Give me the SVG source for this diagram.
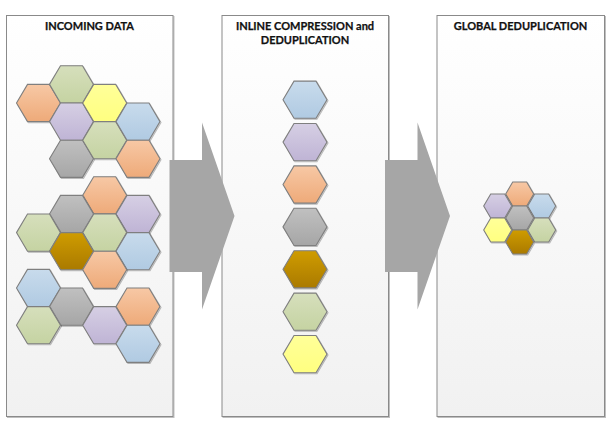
<svg xmlns="http://www.w3.org/2000/svg" xmlns:xlink="http://www.w3.org/1999/xlink" width="613" height="431" viewBox="0 0 613 431">
<defs>
<linearGradient id="gPanel" x1="0" y1="0" x2="0" y2="1"><stop offset="0" stop-color="#ffffff"/><stop offset="1" stop-color="#f1f1f1"/></linearGradient>
<linearGradient id="gOr" x1="0" y1="0" x2="0" y2="1"><stop offset="0" stop-color="#f7c8a5"/><stop offset="1" stop-color="#eeaa79"/></linearGradient>
<linearGradient id="gGr" x1="0" y1="0" x2="0" y2="1"><stop offset="0" stop-color="#d6dfbc"/><stop offset="1" stop-color="#c5d3a2"/></linearGradient>
<linearGradient id="gYe" x1="0" y1="0" x2="0" y2="1"><stop offset="0" stop-color="#ffff99"/><stop offset="1" stop-color="#ffff80"/></linearGradient>
<linearGradient id="gBl" x1="0" y1="0" x2="0" y2="1"><stop offset="0" stop-color="#c8dbec"/><stop offset="1" stop-color="#b0cae2"/></linearGradient>
<linearGradient id="gPu" x1="0" y1="0" x2="0" y2="1"><stop offset="0" stop-color="#d6cfe4"/><stop offset="1" stop-color="#bfb4d5"/></linearGradient>
<linearGradient id="gGy" x1="0" y1="0" x2="0" y2="1"><stop offset="0" stop-color="#c0c0c0"/><stop offset="1" stop-color="#a6a6a6"/></linearGradient>
<linearGradient id="gGo" x1="0" y1="0" x2="0" y2="1"><stop offset="0" stop-color="#cf9c00"/><stop offset="1" stop-color="#aa7a00"/></linearGradient>
<filter id="sh" x="-20%" y="-20%" width="150%" height="150%"><feDropShadow dx="1" dy="1" stdDeviation="0.7" flood-color="#000" flood-opacity="0.25"/></filter>
<polygon id="hx" points="-22,0 -11,-18.6 11,-18.6 22,0 11,18.6 -11,18.6"/>
<polygon id="hs" points="-14,0 -7,-12 7,-12 14,0 7,12 -7,12"/>
</defs>
<style>
.panel{fill:url(#gPanel);stroke:#8a8a8a;stroke-width:1;filter:url(#sh)}
.title{font-family:Lato,"Liberation Sans",sans-serif;font-weight:bold;font-size:11px;fill:#111;stroke:#111;stroke-width:0.25;text-anchor:middle}
.h{stroke:#7f7f7f;stroke-width:1.1;filter:url(#sh)}
.or{fill:url(#gOr)}.gr{fill:url(#gGr)}.ye{fill:url(#gYe)}.bl{fill:url(#gBl)}.pu{fill:url(#gPu)}.gy{fill:url(#gGy)}.go{fill:url(#gGo)}
.arrow{fill:#a6a6a6}
</style>
<g id="panel-incoming">
<rect class="panel" x="6.5" y="15.5" width="166.5" height="401"/>
<text class="title" x="89.5" y="29.5">INCOMING DATA</text>
<use href="#hx" class="h or" x="38.5" y="103"/>
<use href="#hx" class="h gr" x="71.5" y="84.4"/>
<use href="#hx" class="h pu" x="71.5" y="121.6"/>
<use href="#hx" class="h gy" x="71.5" y="158.8"/>
<use href="#hx" class="h ye" x="104.7" y="103"/>
<use href="#hx" class="h gr" x="104.7" y="140.2"/>
<use href="#hx" class="h bl" x="138" y="121.6"/>
<use href="#hx" class="h or" x="138" y="158.8"/>
<use href="#hx" class="h or" x="104.7" y="195.3"/>
<use href="#hx" class="h gy" x="71.5" y="214"/>
<use href="#hx" class="h pu" x="138" y="214"/>
<use href="#hx" class="h gr" x="38.5" y="232.6"/>
<use href="#hx" class="h gr" x="104.7" y="232.6"/>
<use href="#hx" class="h go" x="71.5" y="251.2"/>
<use href="#hx" class="h bl" x="138" y="251.2"/>
<use href="#hx" class="h or" x="104.7" y="269.8"/>
<use href="#hx" class="h bl" x="38.5" y="288"/>
<use href="#hx" class="h gy" x="71.5" y="306.6"/>
<use href="#hx" class="h or" x="138" y="306.6"/>
<use href="#hx" class="h gr" x="38.5" y="325.2"/>
<use href="#hx" class="h pu" x="104.7" y="325.2"/>
<use href="#hx" class="h bl" x="138" y="343.8"/>
</g>
<g id="panel-inline">
<rect class="panel" x="222" y="15.5" width="166.5" height="401"/>
<text class="title" x="305" y="29.5">INLINE COMPRESSION and</text>
<text class="title" x="305" y="43.5">DEDUPLICATION</text>
<use href="#hx" class="h bl" x="305" y="99.7"/>
<use href="#hx" class="h pu" x="305" y="142.1"/>
<use href="#hx" class="h or" x="305" y="184.5"/>
<use href="#hx" class="h gy" x="305" y="226.9"/>
<use href="#hx" class="h go" x="305" y="269.3"/>
<use href="#hx" class="h gr" x="305" y="311.7"/>
<use href="#hx" class="h ye" x="305" y="354.1"/>
</g>
<g id="panel-global">
<rect class="panel" x="437" y="15.5" width="167.5" height="401"/>
<text class="title" x="520.5" y="29.5">GLOBAL DEDUPLICATION</text>
<use href="#hs" class="h or" x="519.7" y="194"/>
<use href="#hs" class="h pu" x="497.7" y="206"/>
<use href="#hs" class="h bl" x="541.7" y="206"/>
<use href="#hs" class="h gy" x="519.7" y="218"/>
<use href="#hs" class="h ye" x="497.7" y="230"/>
<use href="#hs" class="h gr" x="541.7" y="230"/>
<use href="#hs" class="h go" x="519.7" y="242"/>
</g>
<g id="connectors">
<polygon class="arrow" points="169.5,160 202,160 202,122.5 234.5,216 202,309.5 202,272 169.5,272"/>
<polygon class="arrow" points="385,160 417.5,160 417.5,122.5 450,216 417.5,309.5 417.5,272 385,272"/>
</g>
</svg>
